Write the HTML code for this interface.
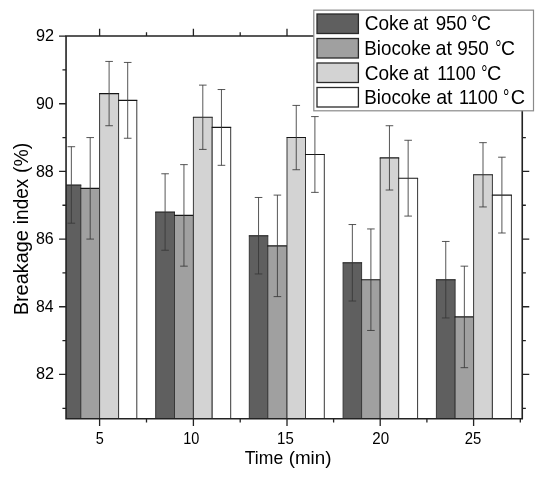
<!DOCTYPE html>
<html><head><meta charset="utf-8"><style>
html,body{margin:0;padding:0;background:#fff;}
body{width:550px;height:479px;overflow:hidden;}
svg{display:block;font-family:"Liberation Sans",Arial,sans-serif;fill:#111;}
svg text{fill:#000;}
</style></head><body>
<svg width="550" height="479" viewBox="0 0 550 479">
<defs><clipPath id="c"><rect x="66.05" y="36.05" width="456.2" height="382.7"/></clipPath></defs>
<g clip-path="url(#c)">
<rect x="61.9" y="184.95" width="18.9" height="238.8" fill="#5f5f5f"/>
<path d="M61.9 423.75V184.95M80.8 184.95V423.75" stroke="#383838" stroke-width="1.0" fill="none"/>
<path d="M61.4 184.95H81.3" stroke="#161616" stroke-width="1.1" fill="none"/>
<rect x="80.8" y="188.33" width="18.8" height="235.42" fill="#a0a0a0"/>
<path d="M80.8 423.75V188.33M99.6 188.33V423.75" stroke="#383838" stroke-width="1.0" fill="none"/>
<path d="M80.3 188.33H100.1" stroke="#161616" stroke-width="1.1" fill="none"/>
<rect x="99.6" y="93.58" width="19" height="330.17" fill="#d3d3d3"/>
<path d="M99.6 423.75V93.58M118.6 93.58V423.75" stroke="#383838" stroke-width="1.0" fill="none"/>
<path d="M99.1 93.58H119.1" stroke="#161616" stroke-width="1.1" fill="none"/>
<rect x="118.6" y="100.35" width="18.2" height="323.4" fill="#ffffff"/>
<path d="M118.6 423.75V100.35M136.8 100.35V423.75" stroke="#383838" stroke-width="1.0" fill="none"/>
<path d="M118.1 100.35H137.3" stroke="#161616" stroke-width="1.1" fill="none"/>
<rect x="155.7" y="212.02" width="18.8" height="211.73" fill="#5f5f5f"/>
<path d="M155.7 423.75V212.02M174.5 212.02V423.75" stroke="#383838" stroke-width="1.0" fill="none"/>
<path d="M155.2 212.02H175" stroke="#161616" stroke-width="1.1" fill="none"/>
<rect x="174.5" y="215.4" width="18.9" height="208.35" fill="#a0a0a0"/>
<path d="M174.5 423.75V215.4M193.4 215.4V423.75" stroke="#383838" stroke-width="1.0" fill="none"/>
<path d="M174 215.4H193.9" stroke="#161616" stroke-width="1.1" fill="none"/>
<rect x="193.4" y="117.27" width="18.8" height="306.48" fill="#d3d3d3"/>
<path d="M193.4 423.75V117.27M212.2 117.27V423.75" stroke="#383838" stroke-width="1.0" fill="none"/>
<path d="M192.9 117.27H212.7" stroke="#161616" stroke-width="1.1" fill="none"/>
<rect x="212.2" y="127.42" width="18.5" height="296.33" fill="#ffffff"/>
<path d="M212.2 423.75V127.42M230.7 127.42V423.75" stroke="#383838" stroke-width="1.0" fill="none"/>
<path d="M211.7 127.42H231.2" stroke="#161616" stroke-width="1.1" fill="none"/>
<rect x="249.3" y="235.71" width="18.5" height="188.04" fill="#5f5f5f"/>
<path d="M249.3 423.75V235.71M267.8 235.71V423.75" stroke="#383838" stroke-width="1.0" fill="none"/>
<path d="M248.8 235.71H268.3" stroke="#161616" stroke-width="1.1" fill="none"/>
<rect x="267.8" y="245.86" width="19.2" height="177.89" fill="#a0a0a0"/>
<path d="M267.8 423.75V245.86M287 245.86V423.75" stroke="#383838" stroke-width="1.0" fill="none"/>
<path d="M267.3 245.86H287.5" stroke="#161616" stroke-width="1.1" fill="none"/>
<rect x="287" y="137.57" width="18.5" height="286.18" fill="#d3d3d3"/>
<path d="M287 423.75V137.57M305.5 137.57V423.75" stroke="#383838" stroke-width="1.0" fill="none"/>
<path d="M286.5 137.57H306" stroke="#161616" stroke-width="1.1" fill="none"/>
<rect x="305.5" y="154.49" width="18.8" height="269.26" fill="#ffffff"/>
<path d="M305.5 423.75V154.49M324.3 154.49V423.75" stroke="#383838" stroke-width="1.0" fill="none"/>
<path d="M305 154.49H324.8" stroke="#161616" stroke-width="1.1" fill="none"/>
<rect x="343.1" y="262.78" width="18.5" height="160.97" fill="#5f5f5f"/>
<path d="M343.1 423.75V262.78M361.6 262.78V423.75" stroke="#383838" stroke-width="1.0" fill="none"/>
<path d="M342.6 262.78H362.1" stroke="#161616" stroke-width="1.1" fill="none"/>
<rect x="361.6" y="279.7" width="18.6" height="144.05" fill="#a0a0a0"/>
<path d="M361.6 423.75V279.7M380.2 279.7V423.75" stroke="#383838" stroke-width="1.0" fill="none"/>
<path d="M361.1 279.7H380.7" stroke="#161616" stroke-width="1.1" fill="none"/>
<rect x="380.2" y="157.87" width="18.5" height="265.88" fill="#d3d3d3"/>
<path d="M380.2 423.75V157.87M398.7 157.87V423.75" stroke="#383838" stroke-width="1.0" fill="none"/>
<path d="M379.7 157.87H399.2" stroke="#161616" stroke-width="1.1" fill="none"/>
<rect x="398.7" y="178.18" width="18.9" height="245.57" fill="#ffffff"/>
<path d="M398.7 423.75V178.18M417.6 178.18V423.75" stroke="#383838" stroke-width="1.0" fill="none"/>
<path d="M398.2 178.18H418.1" stroke="#161616" stroke-width="1.1" fill="none"/>
<rect x="436.4" y="279.7" width="18.7" height="144.05" fill="#5f5f5f"/>
<path d="M436.4 423.75V279.7M455.1 279.7V423.75" stroke="#383838" stroke-width="1.0" fill="none"/>
<path d="M435.9 279.7H455.6" stroke="#161616" stroke-width="1.1" fill="none"/>
<rect x="455.1" y="316.92" width="18.5" height="106.83" fill="#a0a0a0"/>
<path d="M455.1 423.75V316.92M473.6 316.92V423.75" stroke="#383838" stroke-width="1.0" fill="none"/>
<path d="M454.6 316.92H474.1" stroke="#161616" stroke-width="1.1" fill="none"/>
<rect x="473.6" y="174.79" width="18.8" height="248.96" fill="#d3d3d3"/>
<path d="M473.6 423.75V174.79M492.4 174.79V423.75" stroke="#383838" stroke-width="1.0" fill="none"/>
<path d="M473.1 174.79H492.9" stroke="#161616" stroke-width="1.1" fill="none"/>
<rect x="492.4" y="195.1" width="19" height="228.65" fill="#ffffff"/>
<path d="M492.4 423.75V195.1M511.4 195.1V423.75" stroke="#383838" stroke-width="1.0" fill="none"/>
<path d="M491.9 195.1H511.9" stroke="#161616" stroke-width="1.1" fill="none"/>
</g>
<g stroke="#383838" stroke-width="0.85" fill="none">
<path d="M71.35 146.71V223.19M67.55 146.71H75.15M67.55 223.19H75.15"/>
<path d="M90.2 137.57V239.09M86.4 137.57H94M86.4 239.09H94"/>
<path d="M109.1 61.43V125.73M105.3 61.43H112.9M105.3 125.73H112.9"/>
<path d="M127.7 62.45V138.25M123.9 62.45H131.5M123.9 138.25H131.5"/>
<path d="M165.1 173.78V250.26M161.3 173.78H168.9M161.3 250.26H168.9"/>
<path d="M183.95 164.64V266.16M180.15 164.64H187.75M180.15 266.16H187.75"/>
<path d="M202.8 85.12V149.41M199 85.12H206.6M199 149.41H206.6"/>
<path d="M221.45 89.52V165.32M217.65 89.52H225.25M217.65 165.32H225.25"/>
<path d="M258.55 197.47V273.95M254.75 197.47H262.35M254.75 273.95H262.35"/>
<path d="M277.4 195.1V296.62M273.6 195.1H281.2M273.6 296.62H281.2"/>
<path d="M296.25 105.42V169.72M292.45 105.42H300.05M292.45 169.72H300.05"/>
<path d="M314.9 116.59V192.39M311.1 116.59H318.7M311.1 192.39H318.7"/>
<path d="M352.35 224.54V301.02M348.55 224.54H356.15M348.55 301.02H356.15"/>
<path d="M370.9 228.94V330.46M367.1 228.94H374.7M367.1 330.46H374.7"/>
<path d="M389.45 125.73V190.02M385.65 125.73H393.25M385.65 190.02H393.25"/>
<path d="M408.15 140.28V216.08M404.35 140.28H411.95M404.35 216.08H411.95"/>
<path d="M445.75 241.46V317.94M441.95 241.46H449.55M441.95 317.94H449.55"/>
<path d="M464.35 266.16V367.68M460.55 266.16H468.15M460.55 367.68H468.15"/>
<path d="M483 142.65V206.94M479.2 142.65H486.8M479.2 206.94H486.8"/>
<path d="M501.9 157.2V233M498.1 157.2H505.7M498.1 233H505.7"/>
</g>
<path d="M62.45 408.29H66.05M522.25 408.29H525.85 M59.05 374.45H66.05M522.25 374.45H529.25 M62.45 340.61H66.05M522.25 340.61H525.85 M59.05 306.77H66.05M522.25 306.77H529.25 M62.45 272.93H66.05M522.25 272.93H525.85 M59.05 239.09H66.05M522.25 239.09H529.25 M62.45 205.25H66.05M522.25 205.25H525.85 M59.05 171.41H66.05M522.25 171.41H529.25 M62.45 137.57H66.05M522.25 137.57H525.85 M59.05 103.73H66.05M522.25 103.73H529.25 M62.45 69.89H66.05M522.25 69.89H525.85 M59.05 36.05H66.05M522.25 36.05H529.25 M99.6 418.75V425.95M99.6 36.05V28.85 M193.4 418.75V425.95M193.4 36.05V28.85 M287 418.75V425.95M287 36.05V28.85 M380.2 418.75V425.95M380.2 36.05V28.85 M473.6 418.75V425.95M473.6 36.05V28.85 M146.5 418.75V422.55M146.5 36.05V32.25 M240.2 418.75V422.55M240.2 36.05V32.25 M333.6 418.75V422.55M333.6 36.05V32.25 M426.9 418.75V422.55M426.9 36.05V32.25 M520.3 418.75V422.55M520.3 36.05V32.25" stroke="#222" stroke-width="1.3" fill="none"/>
<path d="M66.05 36.05H522.25V418.75H66.05Z" stroke="#222" stroke-width="1.6" fill="none"/>
<text x="35.93" y="379.45" font-size="17" textLength="18.10" lengthAdjust="spacingAndGlyphs">82</text>
<text x="35.95" y="311.77" font-size="17" textLength="17.59" lengthAdjust="spacingAndGlyphs">84</text>
<text x="35.94" y="244.09" font-size="17" textLength="17.84" lengthAdjust="spacingAndGlyphs">86</text>
<text x="35.94" y="176.91" font-size="17" textLength="17.84" lengthAdjust="spacingAndGlyphs">88</text>
<text x="35.94" y="109.23" font-size="17" textLength="17.84" lengthAdjust="spacingAndGlyphs">90</text>
<text x="35.93" y="41.05" font-size="17" textLength="18.10" lengthAdjust="spacingAndGlyphs">92</text>
<text x="95.69" y="443.7" font-size="16.5" textLength="8.06" lengthAdjust="spacingAndGlyphs">5</text>
<text x="183.25" y="443.7" font-size="16.5" textLength="16.13" lengthAdjust="spacingAndGlyphs">10</text>
<text x="277.11" y="443.7" font-size="16.5" textLength="16.69" lengthAdjust="spacingAndGlyphs">15</text>
<text x="372.36" y="443.7" font-size="16.5" textLength="16.85" lengthAdjust="spacingAndGlyphs">20</text>
<text x="464.77" y="443.7" font-size="16.5" textLength="16.52" lengthAdjust="spacingAndGlyphs">25</text>
<text x="244.79" y="464" font-size="19" textLength="38.38" lengthAdjust="spacingAndGlyphs">Time</text>
<text x="288.71" y="464" font-size="19" textLength="42.80" lengthAdjust="spacingAndGlyphs">(min)</text>
<g transform="translate(27.5 0) rotate(-90)">
<text x="-315.31" y="0" font-size="19.8" textLength="85.20" lengthAdjust="spacingAndGlyphs">Breakage</text>
<text x="-224.15" y="0" font-size="19.8" textLength="45.38" lengthAdjust="spacingAndGlyphs">index</text>
<text x="-172.98" y="0" font-size="19.8" textLength="30.17" lengthAdjust="spacingAndGlyphs">(%)</text>
</g>
<rect x="313.8" y="10.15" width="219.7" height="100.65" fill="#fff" stroke="#8a8a8a" stroke-width="1.2"/>
<rect x="317" y="14" width="41.4" height="19.5" fill="#5f5f5f" stroke="#2a2a2a" stroke-width="1.3"/>
<text x="364.63" y="30.3" font-size="20.8" textLength="44.46" lengthAdjust="spacingAndGlyphs">Coke</text>
<text x="413.18" y="30.3" font-size="20.8" textLength="15.17" lengthAdjust="spacingAndGlyphs">at</text>
<text x="435.65" y="30.3" font-size="20.8" textLength="31.37" lengthAdjust="spacingAndGlyphs">950</text>
<text x="471.29" y="30.3" font-size="20.8" textLength="6.37" lengthAdjust="spacingAndGlyphs">°</text>
<text x="477.12" y="30.3" font-size="20.8" textLength="13.99" lengthAdjust="spacingAndGlyphs">C</text>
<rect x="317" y="38.5" width="41.4" height="19.5" fill="#a0a0a0" stroke="#2a2a2a" stroke-width="1.3"/>
<text x="364.27" y="54.9" font-size="20.8" textLength="66.78" lengthAdjust="spacingAndGlyphs">Biocoke</text>
<text x="435.50" y="54.9" font-size="20.8" textLength="16.45" lengthAdjust="spacingAndGlyphs">at</text>
<text x="457.14" y="54.9" font-size="20.8" textLength="31.58" lengthAdjust="spacingAndGlyphs">950</text>
<text x="495.32" y="54.9" font-size="20.8" textLength="6.23" lengthAdjust="spacingAndGlyphs">°</text>
<text x="501.02" y="54.9" font-size="20.8" textLength="13.99" lengthAdjust="spacingAndGlyphs">C</text>
<rect x="317" y="63" width="41.4" height="19.5" fill="#d3d3d3" stroke="#2a2a2a" stroke-width="1.3"/>
<text x="364.63" y="79.5" font-size="20.8" textLength="44.46" lengthAdjust="spacingAndGlyphs">Coke</text>
<text x="413.15" y="79.5" font-size="20.8" textLength="15.70" lengthAdjust="spacingAndGlyphs">at</text>
<text x="437.16" y="79.5" font-size="20.8" textLength="38.43" lengthAdjust="spacingAndGlyphs">1100</text>
<text x="481.32" y="79.5" font-size="20.8" textLength="6.23" lengthAdjust="spacingAndGlyphs">°</text>
<text x="487.10" y="79.5" font-size="20.8" textLength="14.34" lengthAdjust="spacingAndGlyphs">C</text>
<rect x="317" y="87.5" width="41.4" height="19.5" fill="#ffffff" stroke="#2a2a2a" stroke-width="1.3"/>
<text x="364.27" y="103.6" font-size="20.8" textLength="66.78" lengthAdjust="spacingAndGlyphs">Biocoke</text>
<text x="436.21" y="103.6" font-size="20.8" textLength="16.34" lengthAdjust="spacingAndGlyphs">at</text>
<text x="458.94" y="103.6" font-size="20.8" textLength="38.96" lengthAdjust="spacingAndGlyphs">1100</text>
<text x="502.89" y="103.6" font-size="20.8" textLength="6.37" lengthAdjust="spacingAndGlyphs">°</text>
<text x="510.70" y="103.6" font-size="20.8" textLength="14.34" lengthAdjust="spacingAndGlyphs">C</text>
</svg>
</body></html>
